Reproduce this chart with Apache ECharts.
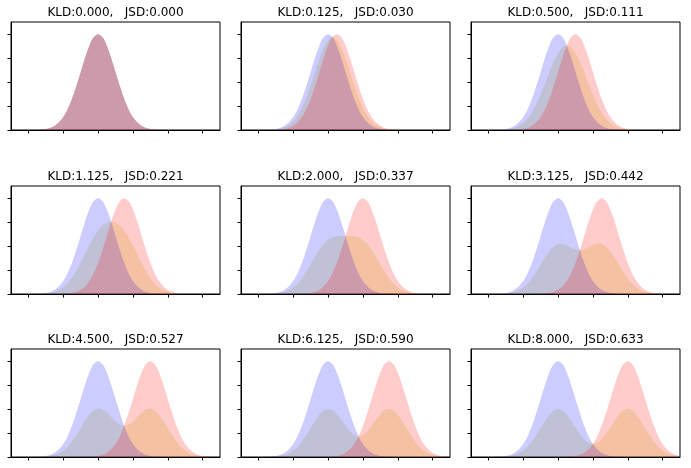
<!DOCTYPE html>
<html>
<head>
<meta charset="utf-8">
<script src="https://cdn.jsdelivr.net/npm/echarts@6/dist/echarts.min.js"></script>
<style>
  html, body { margin: 0; padding: 0; background: #fff; }
  #main { width: 691px; height: 468px; }
</style>
</head>
<body>
<div id="main"></div>
<script>
// mean of the red curve in each panel (blue one sits at 0)
const shifts = [0, 0.5, 1, 1.5, 2, 2.5, 3, 3.5, 4];
const kldLabels = ['0.000', '0.125', '0.500', '1.125', '2.000', '3.125', '4.500', '6.125', '8.000'];
const jsdLabels = ['0.000', '0.030', '0.111', '0.221', '0.337', '0.442', '0.527', '0.590', '0.633'];
// half bell curve, heights at offsets 0, 0.25, 0.5 ... from the peak
const bell = [0.399, 0.387, 0.352, 0.301, 0.242, 0.183, 0.130, 0.086, 0.054, 0.032,
  0.018, 0.009, 0.0044, 0.002, 0.0009, 0.0004, 0.0001];
const xTicks = [-4, -2, 0, 2, 4, 6];
const yTicks = [0, 0.1, 0.2, 0.3, 0.4];

const step = 0.25;
const xMin = -5, xMax = 7;

function bellAt(d) {
  let i = Math.round(Math.abs(d) / step);
  return i < bell.length ? bell[i] : 0;
}

const lefts = [11, 241, 471];
const tops = [22, 186, 349];
const W = 209, H = 108;

let grid = [], xAxis = [], yAxis = [], series = [], title = [];

shifts.forEach((mu, k) => {
  let col = k % 3, row = Math.floor(k / 3);
  grid.push({
    left: lefts[col], top: tops[row], width: W, height: H,
    show: true, borderColor: '#000', borderWidth: 1, backgroundColor: 'transparent'
  });
  xAxis.push({
    type: 'value', gridIndex: k, min: xMin, max: xMax,
    axisLine: { show: true, onZero: false, lineStyle: { color: '#000', width: 1 } },
    axisTick: { show: true, length: 3.5, customValues: xTicks, lineStyle: { color: '#000' } },
    axisLabel: { show: false },
    splitLine: { show: false }
  });
  yAxis.push({
    type: 'value', gridIndex: k, min: 0, max: 0.45,
    axisLine: { show: true, onZero: false, lineStyle: { color: '#000', width: 1 } },
    axisTick: { show: true, length: 3.5, customValues: yTicks, lineStyle: { color: '#000' } },
    axisLabel: { show: false },
    splitLine: { show: false }
  });
  title.push({
    text: 'KLD:' + kldLabels[k] + ',   JSD:' + jsdLabels[k],
    left: lefts[col] + W / 2, top: tops[row] - 15, textAlign: 'center', padding: 0,
    textStyle: { fontFamily: 'DejaVu Sans', fontSize: 12, fontWeight: 'normal', color: '#000' }
  });

  let p = [], q = [], m = [];
  for (let x = xMin; x <= xMax + 1e-9; x += step) {
    let a = bellAt(x), b = bellAt(x - mu);
    p.push([x, a]);
    q.push([x, b]);
    m.push([x, (a + b) / 2]);
  }
  const base = {
    type: 'line', xAxisIndex: k, yAxisIndex: k, symbol: 'none', smooth: 0.3,
    lineStyle: { width: 0 }, silent: true, animation: false
  };
  // mixture sits underneath, the two gaussians are laid over it
  series.push(Object.assign({}, base, { name: 'mix', data: m, areaStyle: { color: 'rgb(191,191,0)', opacity: 0.2 } }));
  series.push(Object.assign({}, base, { name: 'p', data: p, areaStyle: { color: 'rgb(0,0,255)', opacity: 0.2 } }));
  series.push(Object.assign({}, base, { name: 'q', data: q, areaStyle: { color: 'rgb(255,0,0)', opacity: 0.2 } }));
});

const chart = echarts.init(document.getElementById('main'));
chart.setOption({
  backgroundColor: '#fff',
  animation: false,
  title: title,
  grid: grid,
  xAxis: xAxis,
  yAxis: yAxis,
  series: series
});
</script>
</body>
</html>
